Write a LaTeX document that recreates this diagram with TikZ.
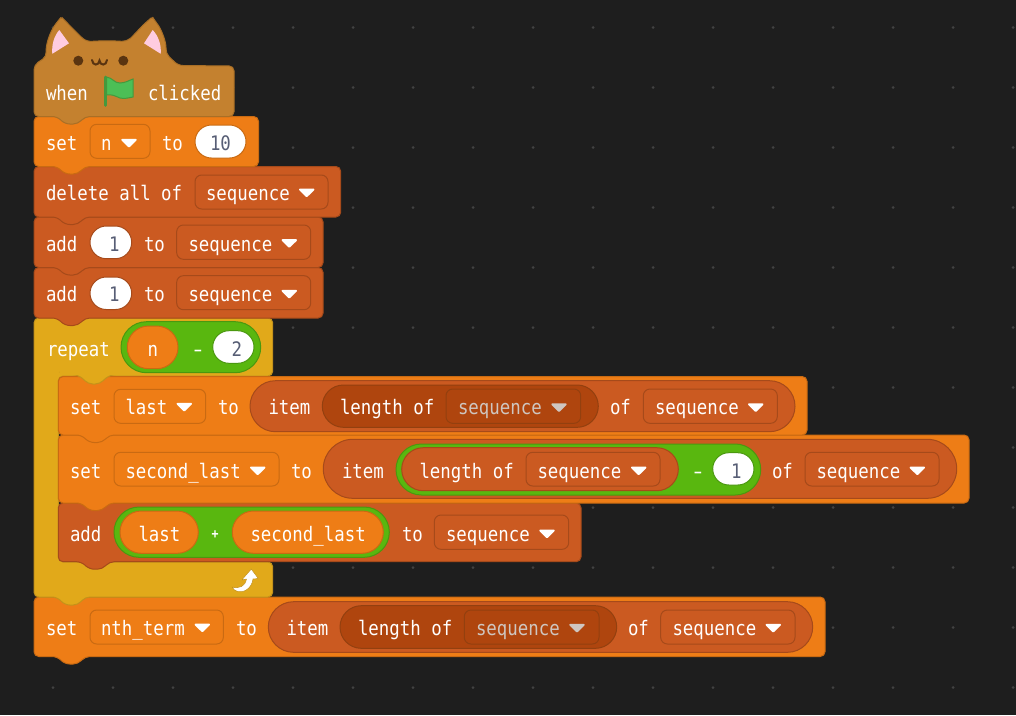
\documentclass[tikz,border=0pt]{standalone}
\usepackage{fontspec}
\usepackage{graphicx}
\setmainfont[FakeStretch=0.87]{DejaVu Sans Mono}
\definecolor{bgc}{HTML}{1E1E1E}
\definecolor{dotc}{HTML}{424242}
\definecolor{hatf}{HTML}{C4812F}
\definecolor{hats}{HTML}{A96F26}
\definecolor{varf}{HTML}{EE7D16}
\definecolor{vars}{HTML}{C96A12}
\definecolor{lstf}{HTML}{CB5A21}
\definecolor{lsts}{HTML}{A64A1A}
\definecolor{drkf}{HTML}{AF450E}
\definecolor{drks}{HTML}{93400F}
\definecolor{yelf}{HTML}{E1A91A}
\definecolor{yels}{HTML}{C4921A}
\definecolor{grnf}{HTML}{59B70F}
\definecolor{grns}{HTML}{4A980F}
\definecolor{numc}{HTML}{575E75}
\definecolor{grayt}{HTML}{CFC6C0}
\definecolor{flagf}{HTML}{4CBF56}
\definecolor{flags}{HTML}{45993D}
\definecolor{catd}{HTML}{5A3410}
\definecolor{catp}{HTML}{FFCCE0}
\newcounter{tn}
\tikzset{
  txt/.style={anchor=base west,inner sep=0pt,outer sep=0pt,text=white,font=\fontsize{15}{17}\selectfont,yshift=-0.4pt},
  blockline/.style={line width=0.75pt,rounded corners=3.6pt},
}
% block: fill, stroke, x1,y1,x2,y2
\newcommand{\blk}[6]{\draw[blockline,fill=#1,draw=#2] (#3,#4) -- (#5,#4) -- (#5,#6)
  -- ({#3+51},#6) -- ({#3+44},{#6+7.5}) -- ({#3+31},{#6+7.5}) -- ({#3+23},#6) -- (#3,#6) -- cycle;}
% pill: fill, stroke, x1,y1,x2,y2
\newcommand{\pill}[6]{\draw[line width=0.75pt,fill=#1,draw=#2,rounded corners={0.75pt*0.5*(#6-(#4))-0.01pt}] (#3,#4) rectangle (#5,#6);}
% dropdown: fill, stroke, x1,y1,x2,y2
\newcommand{\ddn}[6]{\draw[line width=0.75pt,fill=#1,draw=#2,rounded corners=5pt] (#3,#4) rectangle (#5,#6);}
% text: x, baseline, text
\newcommand{\lbl}[3]{\stepcounter{tn}\node[txt] (t\arabic{tn}) at (#1,#2) {#3};}
% triangle: colour, cx, cy
\newcommand{\tri}[3]{\fill[#1,draw=#1,line width=1.5pt,line join=round] ({#2-6.7},{#3-3.2}) -- ({#2+6.7},{#3-3.2}) -- (#2,{#3+3.4}) -- cycle;}
\newcommand{\minus}{\scalebox{1.5}[1]{-}}
\begin{document}
\begin{tikzpicture}[x=0.75pt,y=-0.75pt]
\useasboundingbox (0,0) rectangle (1016,715);
\fill[bgc] (0,0) rectangle (1016,715);
% grid of dots
\foreach \gx in {53,113,...,1013} \foreach \gy in {27.5,87.5,...,700}
  \fill[dotc] (\gx,\gy) circle[radius=1.5];

% final set block
\blk{varf}{vars}{34}{597}{825}{656.5}
% repeat C block
\draw[blockline,fill=yelf,draw=yels] (34,318) -- (272.7,318) -- (272.7,376) -- (109,376) -- (100,384) -- (88,384) -- (80,376)
  -- (58.3,376) -- (58.3,562) -- (272.7,562) -- (272.7,597) -- (85,597) -- (78,605) -- (65,605) -- (57,597) -- (34,597) -- cycle;
% inner blocks
\blk{lstf}{lsts}{58.3}{503}{581}{561.7}
\blk{varf}{vars}{58.3}{435}{969}{503}
\blk{varf}{vars}{58.3}{376.5}{807}{435}
% redraw the tab of the C block over the first inner block
\draw[blockline,fill=yelf,draw=yels] (58.5,372) -- (80,375.8) -- (88,384) -- (100,384) -- (108,375.8) -- (130,372) -- cycle;
\fill[yelf] (60,370) rectangle (140,375.3);
% upper stack
\blk{lstf}{lsts}{34}{267.5}{323}{318}
\blk{lstf}{lsts}{34}{217}{323}{267.5}
\blk{lstf}{lsts}{34}{166.5}{340.7}{217}
\blk{varf}{vars}{34}{116.5}{258.5}{166.5}
% hat block with cat
\draw[line width=0.75pt,fill=hatf,draw=hats,rounded corners=3.6pt] (34,65) -- (46.7,56.5)
  .. controls (45.5,45) and (50,32) .. (57.5,21.5) .. controls (60,18.5) and (63,18.5) .. (65.5,21)
  .. controls (72,28) and (80,36) .. (86.7,41.7) .. controls (100,40.7) and (114,40.7) .. (126.7,41.7)
  .. controls (134,35) and (141,27) .. (147.5,21) .. controls (150.5,18.5) and (153.5,18.5) .. (155.5,21.5)
  .. controls (161,29) and (166.5,42) .. (165.7,53.5) -- (178.3,65.5) -- (234,66) -- (234,116.5)
  -- (85,116.5) -- (78,124) -- (65,124) -- (57,116.5) -- (34,116.5) -- cycle;
\fill[catp] (59.3,30) -- (69,43.3) -- (52.3,53.8) .. controls (51.5,45) and (54,36) .. (59.3,30) -- cycle;
\fill[catp] (152.7,30) -- (144,43.3) -- (160.7,53.8) .. controls (161.5,45) and (158.5,36) .. (152.7,30) -- cycle;
\fill[catd] (78.3,60.7) circle[radius=5];
\fill[catd] (123.3,60.7) circle[radius=5];
\draw[catd,line width=1.5pt,line cap=round] (92,60) .. controls (92.5,66) and (99,66) .. (99.5,60.5) .. controls (100,66) and (106.5,66) .. (107,60);
\lbl{46}{100}{when}
\draw[flags,line width=2pt,line cap=round] (105.5,77) -- (105.5,105.5);
\draw[fill=flagf,draw=flags,line width=0.75pt] (106.5,77) .. controls (113,78) and (114,83) .. (120,83) .. controls (125,83) and (130,80) .. (133,79)
  -- (133,97) .. controls (128,98) and (124,99) .. (120,98) .. controls (115,96) and (112,94) .. (106.5,95) -- cycle;
\lbl{148}{100}{clicked}

% set n
\lbl{46}{150}{set}
\ddn{varf}{vars}{90}{124.3}{150}{158.3}
\lbl{101}{150}{n}
\tri{white}{129}{143}
\lbl{162}{150}{to}
\pill{white}{vars}{195}{125}{246}{158}
\lbl{210}{150}{\textcolor{numc}{10}}

% delete all
\lbl{46}{200}{delete all of}
\ddn{lstf}{lsts}{195}{175}{328}{209}
\lbl{206}{200}{sequence}
\tri{white}{306.7}{192.7}

% add 1
\lbl{46}{250.5}{add}
\pill{white}{lsts}{90}{226}{131.7}{258.7}
\lbl{109}{250.5}{\textcolor{numc}{1}}
\lbl{144}{250.5}{to}
\ddn{lstf}{lsts}{176.7}{225}{310.7}{259.3}
\lbl{188.5}{250.5}{sequence}
\tri{white}{289.3}{243.3}
% add 1
\lbl{46}{300.5}{add}
\pill{white}{lsts}{90}{277}{131.7}{309.5}
\lbl{109}{300.5}{\textcolor{numc}{1}}
\lbl{144}{300.5}{to}
\ddn{lstf}{lsts}{176.7}{275.7}{310.7}{309.7}
\lbl{188.5}{300.5}{sequence}
\tri{white}{289.3}{294}

% repeat
\lbl{47}{355.5}{repeat}
\pill{grnf}{grns}{121}{321.7}{260.7}{372.7}
\pill{varf}{vars}{127.3}{326}{178}{368.7}
\lbl{147.5}{355.5}{n}
\lbl{190}{355.5}{\minus}
\pill{white}{grns}{212.7}{330.7}{254}{363.3}
\lbl{231.5}{355.5}{\textcolor{numc}{2}}

% set last
\lbl{70}{414}{set}
\ddn{varf}{vars}{114}{389.3}{205.7}{423.3}
\lbl{125.5}{414}{last}
\tri{white}{184.3}{407}
\lbl{218}{414}{to}
\pill{lstf}{lsts}{250}{380.7}{795}{431.7}
\lbl{268.5}{414}{item}
\pill{drkf}{drks}{322.3}{385}{598.3}{427.3}
\lbl{340}{414}{length of}
\ddn{drkf}{drks}{446}{389}{580.7}{423.3}
\lbl{458}{414}{\textcolor{grayt}{sequence}}
\tri{grayt}{559}{407.5}
\lbl{610}{414}{of}
\ddn{lstf}{lsts}{643.3}{389}{777.3}{423.3}
\lbl{655}{414}{sequence}
\tri{white}{755.7}{407.5}

% set second_last
\lbl{70}{477.5}{set}
\ddn{varf}{vars}{114}{452.3}{279}{486}
\lbl{125.5}{477.5}{second\_last}
\tri{white}{257.7}{470.7}
\lbl{291}{477.5}{to}
\pill{lstf}{lsts}{323.3}{439.3}{956.7}{498.3}
\lbl{342}{477.5}{item}
\pill{grnf}{grns}{396}{444}{760.7}{495}
\pill{lstf}{lsts}{401.7}{447.7}{678.3}{490.7}
\lbl{419.5}{477.5}{length of}
\ddn{lstf}{lsts}{526}{452.3}{660}{486}
\lbl{537.5}{477.5}{sequence}
\tri{white}{638.7}{470.7}
\lbl{690}{477.5}{\minus}
\pill{white}{grns}{712.7}{452.7}{754}{485}
\lbl{731}{477.5}{\textcolor{numc}{1}}
\lbl{772}{477.5}{of}
\ddn{lstf}{lsts}{805}{452.3}{939}{486}
\lbl{816.5}{477.5}{sequence}
\tri{white}{917.3}{470.7}

% add sum
\lbl{70}{540.5}{add}
\pill{grnf}{grns}{114}{507}{389.3}{557.3}
\pill{varf}{vars}{120}{511}{198.3}{553.3}
\lbl{138.5}{540.5}{last}
\stepcounter{tn}\node[txt,anchor=center,font=\fontsize{10}{12}\selectfont\bfseries] (t\arabic{tn}) at (215,534.5) {+};
\pill{varf}{vars}{232.3}{511}{383.3}{553.3}
\lbl{250.5}{540.5}{second\_last}
\lbl{402}{540.5}{to}
\ddn{lstf}{lsts}{434.3}{515}{568.7}{549.3}
\lbl{446}{540.5}{sequence}
\tri{white}{547}{533.7}

% loop arrow
\draw[fill=white,draw=yels,line width=0.4pt,line join=round] (232,587) .. controls (240,589) and (245,586) .. (246.5,579) -- (241.7,580) -- (251.3,569) -- (258.3,578.5) -- (253,579)
  .. controls (252,588) and (244,593) .. (238,591.7) .. controls (235,591) and (233,589) .. (232,587) -- cycle;

% set nth_term
\lbl{46}{634.5}{set}
\ddn{varf}{vars}{90}{610}{223.3}{644}
\lbl{101}{634.5}{nth\_term}
\tri{white}{202.3}{627.7}
\lbl{236}{634.5}{to}
\pill{lstf}{lsts}{268.3}{601.7}{812.7}{652.3}
\lbl{286.5}{634.5}{item}
\pill{drkf}{drks}{340}{605.7}{616.7}{648.3}
\lbl{358}{634.5}{length of}
\ddn{drkf}{drks}{464.3}{610}{599}{644}
\lbl{476}{634.5}{\textcolor{grayt}{sequence}}
\tri{grayt}{577}{628}
\lbl{628}{634.5}{of}
\ddn{lstf}{lsts}{660.7}{610}{795}{644}
\lbl{672.5}{634.5}{sequence}
\tri{white}{773.3}{628}
\end{tikzpicture}
\end{document}
